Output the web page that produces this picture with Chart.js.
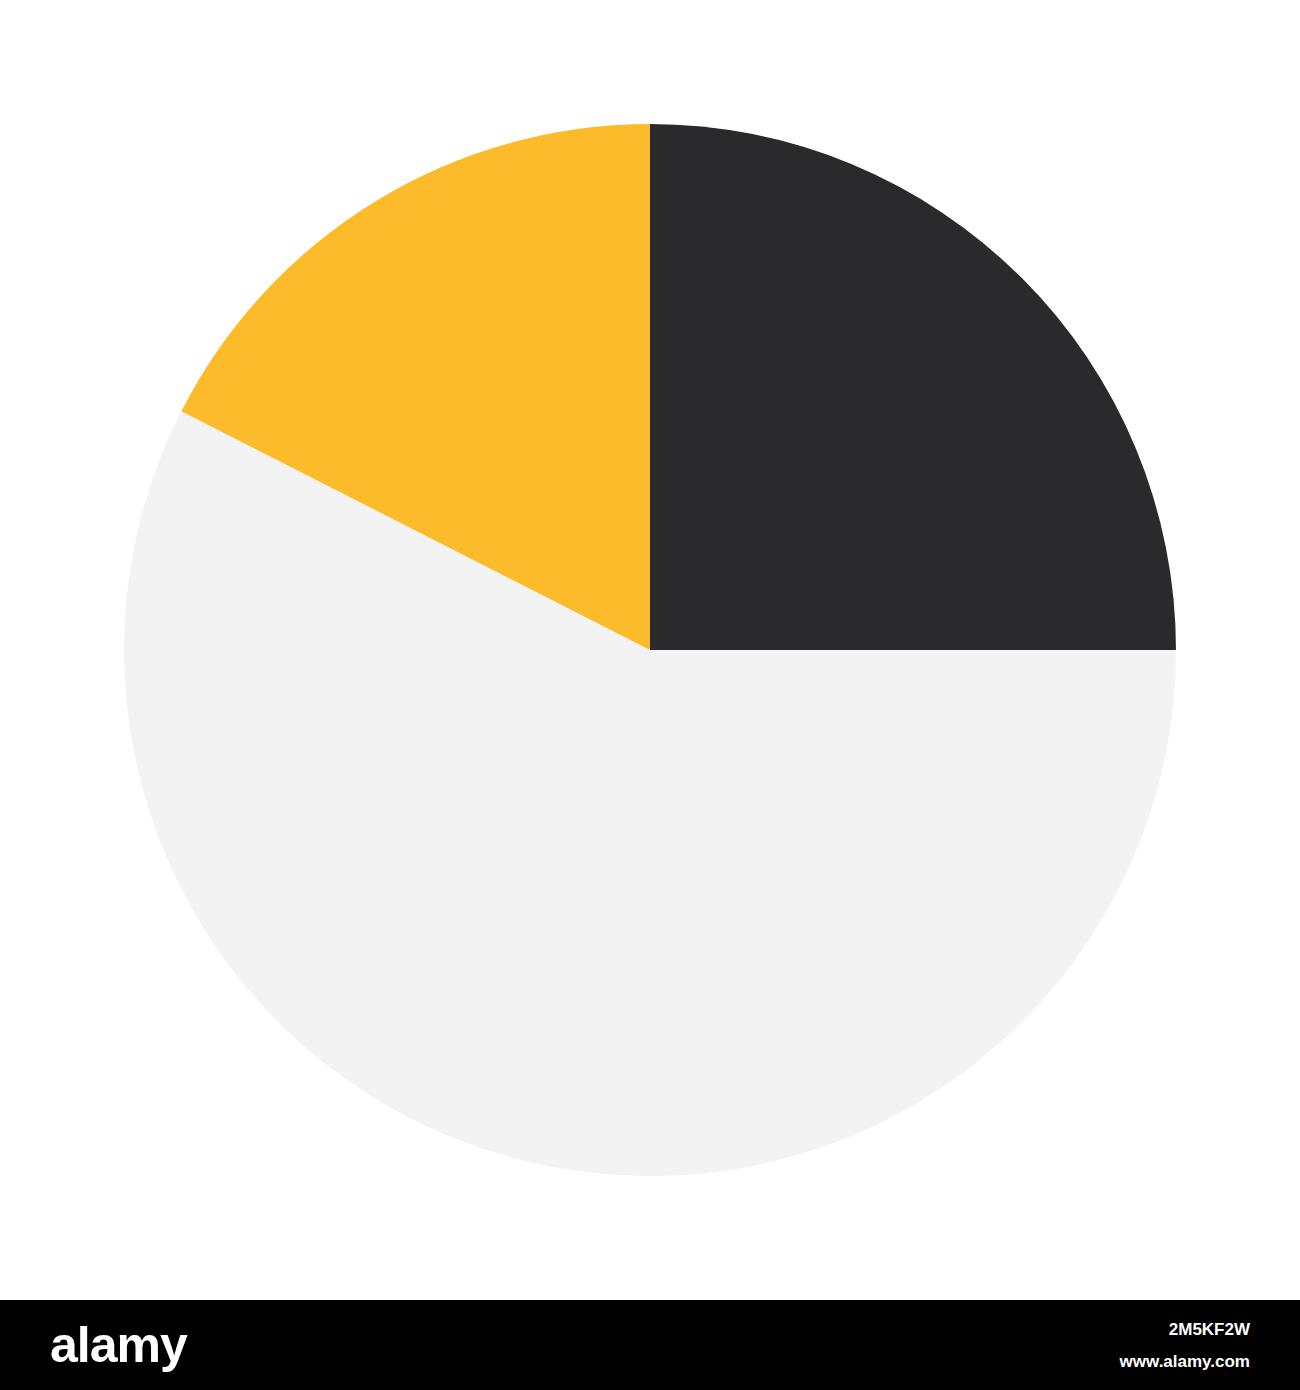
<!DOCTYPE html>
<html>
<head>
<meta charset="utf-8">
<script src="https://cdn.jsdelivr.net/npm/chart.js@4"></script>
<style>
  html, body { margin: 0; padding: 0; background: #ffffff; }
  #wrap { position: absolute; left: 0; top: 0; width: 1300px; height: 1298px; }
  #footer { position: absolute; left: 0; top: 1300px; width: 1300px; height: 90px; background: #000; color: #fff; font-family: "Liberation Sans", Arial, sans-serif; }
  #logo { position: absolute; left: 50px; top: 16px; font-size: 50px; font-weight: bold; letter-spacing: -1px; }
  #id { position: absolute; right: 50px; top: 20px; font-size: 17px; font-weight: bold; }
  #url { position: absolute; right: 50px; top: 52px; font-size: 17px; font-weight: bold; }
</style>
</head>
<body>
<div id="wrap"><canvas id="c"></canvas></div>
<div id="footer"><div id="logo">alamy</div><div id="id">2M5KF2W</div><div id="url">www.alamy.com</div></div>
<script>
const categories = ["Dark", "Light", "Yellow"];
const values = [25, 57.5, 17.5];
const colors = ["#2a2a2c", "#f3f3f3", "#fcbb2b"];

new Chart(document.getElementById('c'), {
  type: 'pie',
  data: {
    labels: categories,
    datasets: [{ data: values, backgroundColor: colors, borderWidth: 0 }]
  },
  options: {
    responsive: true,
    maintainAspectRatio: false,
    animation: false,
    layout: { padding: { top: 124, bottom: 122, left: 124, right: 124 } },
    plugins: { legend: { display: false }, tooltip: { enabled: false } }
  }
});
</script>
</body>
</html>
